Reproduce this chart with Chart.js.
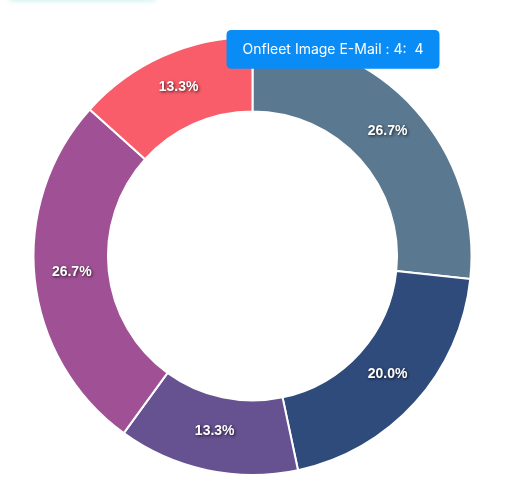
<!DOCTYPE html>
<html>
<head>
<meta charset="utf-8">
<script src="https://cdn.jsdelivr.net/npm/chart.js@4"></script>
<style>
  html, body { margin: 0; padding: 0; background: #fff; overflow: hidden; }
  #wrap { position: relative; width: 505px; height: 498px; }
  #topbar { position: absolute; left: 10px; top: -30px; width: 145px; height: 30px;
            box-shadow: 0 1px 5px rgba(60, 200, 190, 0.25); background: #fff; }
</style>
</head>
<body>
<div id="wrap">
  <div id="topbar"></div>
  <canvas id="donut" width="505" height="498"></canvas>
</div>
<script>
// data
const categories = ['Onfleet Image E-Mail', 'Onfleet SMS', 'Onfleet E-Mail', 'Onfleet Image SMS', 'Other'];
const values = [4, 3, 2, 4, 2];
const sliceColors = ['#5a7890', '#2f4b7c', '#665191', '#a05195', '#f95d6a'];

const total = values.reduce((a, b) => a + b, 0);

// white % labels in the middle of each ring segment
const pctLabels = {
    id: 'pctLabels',
    afterDatasetsDraw(chart) {
        const ctx = chart.ctx;
        const meta = chart.getDatasetMeta(0);
        ctx.save();
        ctx.font = 'bold 14px "Liberation Sans", Arial, sans-serif';
        ctx.textAlign = 'center';
        ctx.textBaseline = 'middle';
        ctx.fillStyle = '#fff';
        ctx.shadowColor = 'rgba(0,0,0,0.75)';
        ctx.shadowBlur = 3;
        ctx.shadowOffsetX = 1;
        ctx.shadowOffsetY = 1;
        meta.data.forEach((arc, i) => {
            const p = arc.tooltipPosition();
            const pct = (values[i] / total * 100).toFixed(1) + '%';
            ctx.fillText(pct, p.x, p.y - 3);
        });
        ctx.restore();
    }
};

Chart.Tooltip.positioners.fixedTop = function () {
    return { x: 333, y: 30 };
};

const chart = new Chart(document.getElementById('donut'), {
    type: 'doughnut',
    data: {
        labels: categories,
        datasets: [{
            data: values,
            backgroundColor: sliceColors,
            borderColor: '#fff',
            borderWidth: 2
        }]
    },
    options: {
        responsive: false,
        animation: false,
        cutout: '66%',
        layout: { padding: { top: 36, bottom: 22 } },
        plugins: {
            legend: { display: false },
            tooltip: {
                position: 'fixedTop',
                xAlign: 'center',
                yAlign: 'top',
                caretSize: 0,
                caretPadding: 0,
                backgroundColor: '#0a8cf7',
                bodyColor: '#fff',
                bodyFont: { family: 'Inter, "Noto Sans", sans-serif', size: 14 },
                padding: { left: 16, right: 16, top: 11, bottom: 11 },
                cornerRadius: 5,
                displayColors: false,
                callbacks: {
                    title: () => '',
                    label: (c) => c.label + ' : ' + c.raw + ':  ' + c.raw
                }
            }
        }
    },
    plugins: [pctLabels]
});

chart.tooltip.setActiveElements([{ datasetIndex: 0, index: 0 }], { x: 333, y: 30 });
chart.update();
</script>
</body>
</html>
